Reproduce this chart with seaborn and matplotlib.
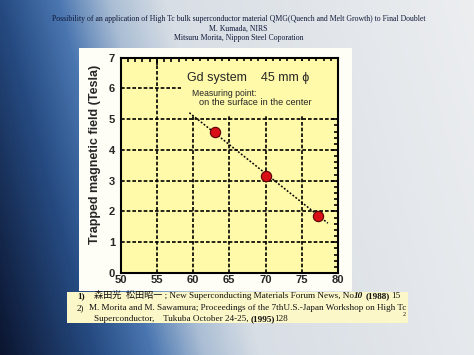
import numpy as np
import matplotlib.pyplot as plt
import seaborn as sns
from matplotlib.patches import Rectangle
from matplotlib.ticker import MultipleLocator
from matplotlib.colors import LinearSegmentedColormap, Normalize

x_vals = [63.0, 70.0, 77.3]
field_vals = [4.57, 3.14, 1.85]
# dotted trend line end points
fit_x = [59.5, 78.6]
fit_y = [5.21, 1.62]

xticks = [50, 55, 60, 65, 70, 75, 80]
yticks = [0, 1, 2, 3, 4, 5, 6, 7]

title_lines = [
    "Possibility of an application of High Tc bulk superconductor material QMG(Quench and Melt Growth) to Final Doublet",
    "M. Kumada, NIRS",
    "Mitsuru Morita, Nippon Steel Coporation",
]

sns.set_style("white")
plt.rcParams['font.family'] = ['Liberation Sans', 'DejaVu Sans']

fig = plt.figure(figsize=(4.74, 3.55), dpi=100, facecolor='#e3e7eb')

# slide background: navy/blue on the left fading to light grey
slide_cmap = LinearSegmentedColormap.from_list(
    "slide", [(0.0, '#0b1530'), (0.167, '#264b82'), (0.267, '#4a76b0'),
              (0.358, '#a9bdd4'), (0.458, '#d8dee5'), (1.0, '#eceef0')])
gx, gy = np.meshgrid(np.linspace(0, 1, 474), np.linspace(0, 1, 355))
# gy runs top -> bottom (figimage origin='upper')
shade = gx - 0.2 * gy
rgb = slide_cmap(Normalize(-0.2, 1.0)(shade))
fig.figimage(rgb, xo=0, yo=0, origin='upper', zorder=-20)

# white panel holding the figure
fig.patches.append(Rectangle((79 / 474, 1 - 291 / 355), 273 / 474, 243 / 355,
                             transform=fig.transFigure, facecolor='#fefef6',
                             edgecolor='none', zorder=-5))
# references box
fig.patches.append(Rectangle((67 / 474, 1 - 323 / 355), 341 / 474, 31 / 355,
                             transform=fig.transFigure, facecolor='#fcf7c9',
                             edgecolor='none', zorder=-5))

for i, line in enumerate(title_lines):
    fig.text(0.503, 1 - (19 + 9.5 * i) / 355, line, ha='center', va='center',
             fontsize=5.6, family=['Liberation Serif'], color='#101838')

ax = fig.add_axes([120.5 / 474, 1 - 273 / 355, 217.5 / 474, 215.3 / 355])
ax.set_facecolor('#fffaa9')
ax.set_axisbelow(True)

sns.lineplot(x=fit_x, y=fit_y, ax=ax, color='black', linestyle=(0, (1.2, 1.2)),
             linewidth=1.1, zorder=3)
sns.scatterplot(x=x_vals, y=field_vals, ax=ax, s=55, color='#d80f16',
                edgecolor='#5a0000', linewidth=0.8, zorder=4)

ax.set_xlim(50, 80)
ax.set_ylim(0, 7)
ax.set_xticks(xticks)
ax.set_yticks(yticks)
ax.xaxis.set_minor_locator(MultipleLocator(1))
ax.yaxis.set_minor_locator(MultipleLocator(0.2))
ax.grid(True, which='major', color='black', linestyle=(0, (2.2, 1.2)), linewidth=1.2)
ax.tick_params(which='both', direction='in', top=True, right=True, width=1.2,
               color='black')
ax.tick_params(which='major', length=5, labelsize=8)
ax.tick_params(axis='x', which='major', pad=1.5)
ax.tick_params(axis='y', which='major', pad=4)
ax.tick_params(which='minor', length=3)
for lab in ax.get_xticklabels() + ax.get_yticklabels():
    lab.set_fontweight('bold')
for sp in ax.spines.values():
    sp.set_color('black')
    sp.set_linewidth(1.5)

# plain box hiding the grid behind the caption
ax.add_patch(Rectangle((58.3, 5.15), 21.6, 1.75, facecolor='#fffaa9',
                       edgecolor='none', zorder=1))
ax.text(59.2, 6.33, "Gd system    45 mm ϕ", fontsize=9, va='center', zorder=5)
ax.text(59.8, 5.84, "Measuring point:", fontsize=6.2, va='center', zorder=5)
ax.text(60.8, 5.53, "on the surface in the center", fontsize=6.7, va='center', zorder=5)

ax.set_xlabel("")
ax.set_ylabel("Trapped magnetic field (Tesla)", fontsize=9, fontweight='bold')
ax.yaxis.set_label_coords(-0.088, 0.55)

# references below the chart, pieced together so bold parts can be mixed in
renderer = fig.canvas.get_renderer()
ref_font = ['Liberation Serif', 'Noto Sans CJK JP']


def put_runs(y_px, runs):
    # each run: (text, weight, style, absolute x in px or None, gap in px)
    x = 0
    for s, weight, style, x_abs, gap in runs:
        x = x_abs / 474 if x_abs is not None else x + gap / 474
        t = fig.text(x, 1 - y_px / 355, s, fontsize=6.6, family=ref_font,
                     fontweight=weight, fontstyle=style, va='baseline', color='#111111')
        bb = t.get_window_extent(renderer)
        x = bb.x1 / fig.bbox.width


put_runs(298.5, [("1)", 'bold', 'normal', 77, 0),
                 ("森田光  松田昭一 ; New Superconducting Materials Forum News, No", 'normal', 'normal', 94, 0),
                 ("10", 'bold', 'italic', None, 0),
                 ("(1988)", 'bold', 'normal', None, 2),
                 ("15", 'normal', 'normal', None, 2)])
put_runs(309.8, [("2)", 'normal', 'normal', 77, 0),
                 ("M. Morita and M. Sawamura; Proceedings of the 7thU.S.-Japan Workshop on High Tc", 'normal', 'normal', 89, 0)])
put_runs(321.2, [("Superconductor,    Tukuba October 24-25,", 'normal', 'normal', 94, 0),
                 ("(1995)", 'bold', 'normal', None, 2),
                 ("128", 'normal', 'normal', None, -0.5)])
fig.text(404 / 474, 1 - 315 / 355, "2", fontsize=4.5, family=['Liberation Serif'],
         ha='center', va='center', color='#111111')

fig.savefig("out.png", dpi=100, facecolor=fig.get_facecolor())
